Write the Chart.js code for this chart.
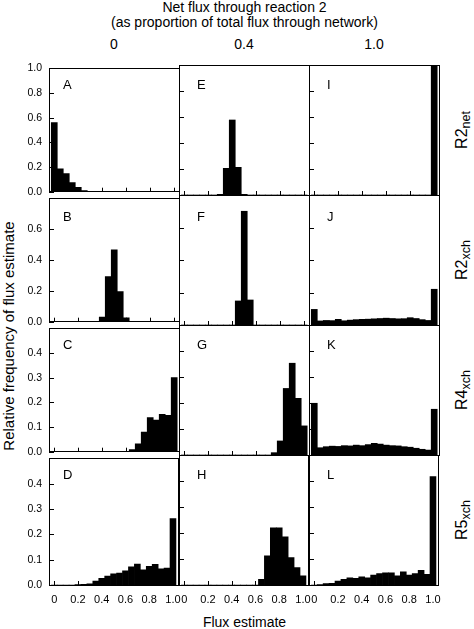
<!DOCTYPE html>
<html>
<head>
<meta charset="utf-8">
<script src="https://cdn.jsdelivr.net/npm/chart.js@4.4.1/dist/chart.umd.min.js"></script>
<style>
  body { margin: 0; background: #fff; font-family: "Liberation Sans", Arial, sans-serif; }
  #wrap { position: relative; width: 474px; height: 629px; overflow: hidden; background: #fff; }
  .t { position: absolute; white-space: nowrap; color: #000; font-size: 14px; line-height: 16px; }
  .c { text-align: center; }
  .lab { position: absolute; color: #000; font-size: 13px; line-height: 14px; }
  .rot { position: absolute; white-space: nowrap; color: #000; font-size: 15px; line-height: 18px;
         transform: translate(-50%, -50%) rotate(-90deg); }
  .row { font-size: 16px; }
  .row sub { font-size: 12.5px; vertical-align: -3px; }
  canvas { position: absolute; }
</style>
</head>
<body>
<div id="wrap">
  <div class="t c" style="left:0;width:489px;top:-1px">Net flux through reaction 2</div>
  <div class="t c" style="left:0;width:489px;top:14px">(as proportion of total flux through network)</div>
  <div class="t c" style="left:64px;width:100px;top:36px">0</div>
  <div class="t c" style="left:194px;width:100px;top:36px">0.4</div>
  <div class="t c" style="left:324px;width:100px;top:36px">1.0</div>
  <div class="t c" style="left:0;width:489px;top:614px">Flux estimate</div>
  <div class="rot" style="left:9px;top:336px">Relative frequency of flux estimate</div>
  <div class="rot row" style="left:464px;top:130px">R2<sub>net</sub></div>
  <div class="rot row" style="left:464px;top:260px">R2<sub>xch</sub></div>
  <div class="rot row" style="left:464px;top:390px">R4<sub>xch</sub></div>
  <div class="rot row" style="left:464px;top:520px">R5<sub>xch</sub></div>
</div>
<script>
// bin centres (width 0.05)
const binCenters = [0, 0.05, 0.1, 0.15, 0.2, 0.25, 0.3, 0.35, 0.4, 0.45, 0.5,
                    0.55, 0.6, 0.65, 0.7, 0.75, 0.8, 0.85, 0.9, 0.95, 1.0];

// relative frequencies, one array per panel
const freqA = [0.56, 0.185, 0.146, 0.074, 0.036, 0.01, 0.002, 0, 0, 0, 0, 0, 0, 0, 0, 0, 0, 0, 0, 0, 0];
const freqB = [0, 0, 0, 0, 0, 0, 0, 0, 0.03, 0.293, 0.466, 0.195, 0.025, 0, 0, 0, 0, 0, 0, 0, 0];
const freqC = [0, 0, 0, 0, 0, 0, 0, 0, 0, 0, 0, 0, 0, 0.009, 0.032, 0.08, 0.138, 0.128, 0.151, 0.147, 0.30];
const freqD = [0, 0, 0, 0, 0.002, 0.003, 0.005, 0.015, 0.026, 0.035, 0.044, 0.047, 0.056, 0.072, 0.083, 0.06, 0.074, 0.082, 0.064, 0.067, 0.262];
const freqE = [0, 0, 0, 0, 0, 0, 0.005, 0.205, 0.577, 0.213, 0.005, 0, 0, 0, 0, 0, 0, 0, 0, 0, 0];
const freqF = [0, 0, 0, 0, 0, 0, 0, 0, 0, 0.148, 0.70, 0.154, 0, 0, 0, 0, 0, 0, 0, 0, 0];
const freqG = [0, 0, 0, 0, 0, 0, 0, 0, 0, 0, 0, 0, 0, 0, 0, 0.009, 0.054, 0.256, 0.353, 0.218, 0.112];
const freqH = [0, 0, 0, 0, 0, 0, 0, 0, 0, 0, 0, 0, 0, 0.022, 0.112, 0.22, 0.22, 0.185, 0.105, 0.067, 0.035];
const freqI = [0, 0, 0, 0, 0, 0, 0, 0, 0, 0, 0, 0, 0, 0, 0, 0, 0, 0, 0, 0, 1.0];
const freqJ = [0.096, 0.025, 0.028, 0.027, 0.035, 0.026, 0.03, 0.033, 0.035, 0.036, 0.038, 0.04, 0.042, 0.04, 0.038, 0.039, 0.045, 0.04, 0.033, 0.028, 0.22];
const freqK = [0.199, 0.028, 0.032, 0.034, 0.033, 0.036, 0.035, 0.038, 0.036, 0.04, 0.045, 0.042, 0.038, 0.036, 0.035, 0.032, 0.03, 0.026, 0.022, 0.019, 0.176];
const freqL = [0, 0.002, 0.005, 0.006, 0.015, 0.022, 0.028, 0.026, 0.031, 0.028, 0.038, 0.044, 0.047, 0.047, 0.035, 0.051, 0.038, 0.044, 0.056, 0.041, 0.417];

// panels in rows (R2net, R2xch, R4xch, R5xch) x columns (0, 0.4, 1.0)
const panelLetters = [['A', 'E', 'I'], ['B', 'F', 'J'], ['C', 'G', 'K'], ['D', 'H', 'L']];
const panelData = [[freqA, freqE, freqI], [freqB, freqF, freqJ], [freqC, freqG, freqK], [freqD, freqH, freqL]];

// axes
const xTicks = [0, 0.2, 0.4, 0.6, 0.8, 1.0];
const rowMax = [1.0, 0.8, 0.5, 0.5];
const yTicks = [
    [0, 0.2, 0.4, 0.6, 0.8, 1.0],
    [0, 0.2, 0.4, 0.6],
    [0, 0.1, 0.2, 0.3, 0.4],
    [0, 0.1, 0.2, 0.3, 0.4]
];

// layout of the grid
const colLeft = [49, 179, 309];
const rowTop = [65, 195, 325, 455];
const size = 130;
const pad = 10;      // room round each plot so edge labels don't squeeze it
const yAxisW = 38;
const xAxisH = 28;

// inward tick marks + frame (shared edges land on the same pixel)
const framePlugin = {
    id: 'frame',
    afterDatasetsDraw(chart, args, opts) {
        const ctx = chart.ctx;
        const a = chart.chartArea;
        const xs = chart.scales.x, ys = chart.scales.y;
        ctx.save();
        ctx.strokeStyle = '#000';
        ctx.lineWidth = 1;
        ctx.beginPath();
        xTicks.forEach(v => {
            const px = Math.round(xs.getPixelForValue(v)) + 0.5;
            ctx.moveTo(px, a.bottom);
            ctx.lineTo(px, a.bottom - 4);
        });
        opts.yt.forEach(v => {
            const py = Math.round(ys.getPixelForValue(v)) + 0.5;
            ctx.moveTo(a.left, py);
            ctx.lineTo(a.left + 5, py);
        });
        ctx.stroke();
        ctx.strokeRect(Math.round(a.left) + 0.5, Math.round(a.top) + 0.5,
                       Math.round(a.right - a.left), Math.round(a.bottom - a.top));
        ctx.restore();
    }
};

const wrap = document.getElementById('wrap');

for (let r = 0; r < 4; r++) {
    for (let c = 0; c < 3; c++) {
        const showY = c === 0;
        const showX = r === 3;
        const cv = document.createElement('canvas');
        cv.width = size + 2 * pad + (showY ? yAxisW : 0);
        cv.height = size + 2 * pad + (showX ? xAxisH : 0);
        cv.style.left = (colLeft[c] - pad - (showY ? yAxisW : 0)) + 'px';
        cv.style.top = (rowTop[r] - pad) + 'px';
        wrap.appendChild(cv);

        const lab = document.createElement('div');
        lab.className = 'lab';
        lab.textContent = panelLetters[r][c];
        lab.style.left = (colLeft[c] + (c === 0 ? 14 : 18)) + 'px';
        lab.style.top = (rowTop[r] + (r === 1 ? 15 : 13)) + 'px';
        wrap.appendChild(lab);

        const yt = yTicks[r];
        new Chart(cv.getContext('2d'), {
            type: 'bar',
            data: {
                datasets: [{
                    data: binCenters.map((x, i) => ({ x: x, y: panelData[r][c][i] })),
                    backgroundColor: '#000',
                    borderWidth: 0,
                    barPercentage: 1,
                    categoryPercentage: 1
                }]
            },
            options: {
                responsive: false,
                animation: false,
                devicePixelRatio: 1,
                layout: { padding: pad },
                plugins: { legend: { display: false }, tooltip: { enabled: false }, frame: { yt: yt } },
                scales: {
                    x: {
                        type: 'linear',
                        offset: false,
                        min: -0.044,
                        max: 1.04,
                        display: showX,
                        grid: { display: false, drawTicks: false },
                        border: { display: false },
                        afterBuildTicks: s => { s.ticks = xTicks.map(v => ({ value: v })); },
                        afterFit: s => { s.height = showX ? xAxisH : 0; },
                        ticks: {
                            autoSkip: false, maxRotation: 0, minRotation: 0, padding: 8,
                            color: '#000',
                            font: { family: '"Liberation Sans", Arial, sans-serif', size: 11 },
                            callback: v => v === 0 ? '0' : v.toFixed(1)
                        }
                    },
                    y: {
                        min: 0,
                        max: rowMax[r],
                        display: showY,
                        grid: { display: false, drawTicks: false },
                        border: { display: false },
                        afterBuildTicks: s => { s.ticks = yt.map(v => ({ value: v })); },
                        afterFit: s => { s.width = showY ? yAxisW : 0; },
                        ticks: {
                            padding: 7,
                            color: '#000',
                            font: { family: '"Liberation Sans", Arial, sans-serif', size: 10.5 },
                            callback: v => v.toFixed(1)
                        }
                    }
                }
            },
            plugins: [framePlugin]
        });
    }
}
</script>
</body>
</html>
